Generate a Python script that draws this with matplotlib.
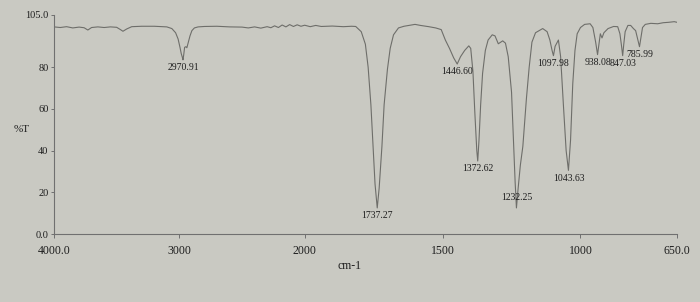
import matplotlib

matplotlib.use("Agg")
import matplotlib.pyplot as plt
import numpy as np

# IR spectrum: wavenumber (cm-1) and %T
wavenumber = [
    4000, 3950, 3900, 3850, 3800, 3760, 3730, 3700, 3650, 3600, 3550, 3500,
    3470, 3450, 3420, 3380, 3300, 3200, 3100, 3060, 3030, 3010, 2995, 2985,
    2975, 2971, 2965, 2958, 2948, 2940, 2930, 2915, 2900, 2880, 2850, 2800,
    2700, 2600, 2500, 2450, 2400, 2350, 2300, 2270, 2240, 2210, 2180, 2150,
    2120, 2090, 2060, 2030, 2000, 1980, 1960, 1940, 1900, 1860, 1830, 1815,
    1795, 1780, 1770, 1760, 1752, 1745, 1737, 1730, 1720, 1712, 1700, 1690,
    1678, 1660, 1640, 1600, 1580, 1550, 1525, 1505, 1490, 1475, 1460, 1447,
    1435, 1420, 1405, 1398, 1390, 1383, 1376, 1372.6, 1368, 1362, 1355, 1345,
    1335, 1320, 1310, 1298, 1282, 1272, 1262, 1250, 1243, 1237, 1232.25,
    1226, 1218, 1209, 1196, 1186, 1176, 1163, 1137, 1121, 1111, 1103, 1098,
    1092, 1080, 1072, 1062, 1052, 1043.63, 1036, 1028, 1020, 1012, 1000, 985,
    965, 955, 945, 938.08, 933, 928, 922, 915, 900, 880, 865, 857, 851,
    847.03, 843, 838, 828, 818, 808, 800, 792, 785.99, 781, 775, 765, 745,
    720, 700, 680, 660, 650,
]
transmittance = [
    99.3, 99.0, 99.4, 98.8, 99.2, 98.9, 97.8, 99.0, 99.3, 99.0, 99.3, 99.1,
    98.0, 97.2, 98.3, 99.4, 99.6, 99.6, 99.3, 98.5, 96.5, 93.5, 89.5, 86.5,
    84.5, 83.5, 86.0, 89.5, 89.8, 89.3, 91.5, 95.0, 97.5, 98.8, 99.3, 99.5,
    99.6, 99.3, 99.2, 98.8, 99.3, 98.7, 99.4, 98.9, 99.8, 99.0, 100.2, 99.3,
    100.4, 99.5, 100.3, 99.6, 100.1, 99.4, 100.0, 99.5, 99.7, 99.4, 99.6, 99.5,
    97.0, 91.0, 80.0, 62.0, 42.0, 24.0, 12.5, 22.0, 42.0, 62.0, 79.0, 89.0,
    95.5, 98.8, 99.6, 100.5, 100.0, 99.4, 98.8, 98.0, 93.0, 89.0, 84.5, 81.5,
    85.0, 88.0, 90.2, 89.0, 78.0, 58.0, 40.0, 35.0, 45.0, 62.0, 77.0, 88.0,
    93.0, 95.5, 95.0, 91.2, 92.6, 91.5, 85.0, 68.0, 45.0, 25.0, 12.5,
    22.0, 33.0, 42.0, 65.0, 80.0, 92.0, 96.5, 98.5, 97.0, 93.0, 88.0, 85.5,
    90.0, 93.0, 85.0, 62.0, 40.0, 30.5, 45.0, 72.0, 88.0, 96.0, 99.0, 100.5,
    100.8, 99.0, 92.0, 86.0, 91.0, 96.0, 94.0, 96.5, 98.5, 99.5, 99.4, 96.0, 90.0,
    85.5, 91.0, 97.0, 100.0, 100.0, 98.5, 97.5, 93.0, 89.8, 94.0, 99.0, 100.5, 101.0,
    100.8, 101.3, 101.5, 101.8, 101.5,
]

peak_positions = [2970.91, 1737.27, 1446.60, 1372.62, 1232.25, 1097.98,
                  1043.63, 938.08, 847.03, 785.99]

x_ticks = [4000, 3000, 2000, 1500, 1000, 650]
x_tick_labels = ["4000.0", "3000", "2000", "1500", "1000", "650.0"]
y_ticks = [0, 20, 40, 60, 80, 105]
y_tick_labels = ["0.0", "20", "40", "60", "80", "105.0"]

PAPER = "#c9c9c2"
INK = "#1e1e1e"
TRACE = "#6e6e6a"
SERIF = ["Liberation Serif", "DejaVu Serif"]


def _fwd(x):
    # instrument doubles the scale below 2000 cm-1
    x = np.asarray(x, dtype=float)
    return np.where(x >= 2000, x, 2000 - 2.2 * (2000 - x))


def _inv(y):
    y = np.asarray(y, dtype=float)
    return np.where(y >= 2000, y, 2000 - (2000 - y) / 2.2)


fig = plt.figure(figsize=(7.0, 3.02), dpi=100, facecolor=PAPER)
ax = fig.add_axes([54 / 700, 1 - 234 / 302, 623 / 700, 219 / 302])
ax.set_facecolor(PAPER)

ax.set_xscale("function", functions=(_fwd, _inv))
ax.plot(wavenumber, transmittance, color=TRACE, lw=0.8)
ax.set_xlim(4000, 650)
ax.set_ylim(0, 105)

ax.set_xticks(x_ticks)
ax.set_xticklabels(x_tick_labels)
ax.set_yticks(y_ticks)
ax.set_yticklabels(y_tick_labels)
ax.minorticks_off()

for side in ("top", "right"):
    ax.spines[side].set_visible(False)
for side in ("left", "bottom"):
    ax.spines[side].set_color("#707070")
    ax.spines[side].set_linewidth(0.8)

ax.tick_params(axis="x", direction="out", length=3, width=0.7, color="#707070",
               pad=5, labelsize=8.5, labelcolor=INK)
ax.tick_params(axis="y", direction="out", length=2, width=0.7, color="#707070",
               pad=2, labelsize=7.5, labelcolor=INK)
for lab in ax.get_xticklabels() + ax.get_yticklabels():
    lab.set_family(SERIF)

# peak labels sit just under the tip, except the one near the floor
peak_t = np.interp(peak_positions, wavenumber[::-1], transmittance[::-1])
for wn, t in zip(peak_positions, peak_t):
    if wn == 1232.25:
        offset, va = (0, 4), "bottom"
    else:
        offset, va = (0, -2.5), "top"
    ax.annotate(f"{wn:.2f}", xy=(wn, t), xytext=offset, textcoords="offset points",
                ha="center", va=va, fontsize=7, color=INK, family=SERIF)

fig.text(22 / 700, 1 - 130 / 302, "%T", ha="center", va="center",
         fontsize=8, color=INK, family=SERIF)
fig.text(350 / 700, 1 - 266 / 302, "cm-1", ha="center", va="center",
         fontsize=8.5, color=INK, family=SERIF)

fig.savefig("out.png", dpi=100, facecolor=PAPER)
